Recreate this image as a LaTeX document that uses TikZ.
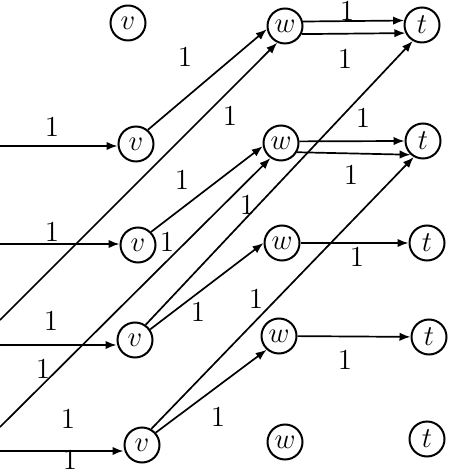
\documentclass[tikz,border=0pt]{standalone}
\usetikzlibrary{arrows.meta}
\begin{document}
\begin{tikzpicture}[x=0.5pt,y=-0.5pt,
  vert/.style={circle,draw,line width=1pt,minimum size=17.5pt,inner sep=0pt,font=\fontsize{15.5}{17}\selectfont},
  lab/.style={font=\fontsize{14.5}{16}\selectfont,inner sep=0pt},
  arr/.style={-{Latex[length=5.5pt,width=4.2pt]},line width=0.85pt}]
\useasboundingbox (0,0) rectangle (474,474);
% vertices
\node[vert] (v0) at (128,23) {$v$};
\node[vert] (w0) at (285,26) {$w$};
\node[vert] (t0) at (422,25) {$t$};
\node[vert] (v1) at (136,144) {$v$};
\node[vert] (w1) at (281,143) {$w$};
\node[vert] (t1) at (423,141) {$t$};
\node[vert] (v2) at (138,245) {$v$};
\node[vert] (w2) at (282,243) {$w$};
\node[vert] (t2) at (427,243) {$t$};
\node[vert] (v3) at (135,340) {$v$};
\node[vert] (w3) at (279,336) {$w$};
\node[vert] (t3) at (429,337) {$t$};
\node[vert] (v4) at (142,445) {$v$};
\node[vert] (w4) at (285,442) {$w$};
\node[vert] (t4) at (427,439) {$t$};
% free ends at the left edge
\coordinate (h1) at (0,146);
\coordinate (h2) at (0,244);
\coordinate (h3) at (0,345);
\coordinate (h4) at (0,451);
\coordinate (f0) at (0,320);
\coordinate (j0) at (0,427);
% connectors
\draw[arr] (h1) -- (h1 -| v1.west);
\draw[arr] (h2) -- (h2 -| v2.west);
\draw[arr] (h3) -- (h3 -| v3.west);
\draw[arr] (h4) -- (h4 -| v4.west);
\draw[arr] (v1.50) -- (w0.190);
\draw[arr] (f0) -- (w0.245);
\draw[arr] (w0.14) -- (t0.166);
\draw[arr] (w0.-26) -- (t0.-154);
\draw[arr] (v3.55) -- (t0.240);
\draw[arr] (v2.45) -- (w1.190);
\draw[arr] (j0) -- (w1.235);
\draw[arr] (w1.5) -- (t1.180);
\draw[arr] (w1.-30) -- (t1.-132);
\draw[arr] (v4.60) -- (t1.240);
\draw[arr] (v3.35) -- (w2.180);
\draw[arr] (w2) -- (t2);
\draw[arr] (v4.42) -- (w3.228);
\draw[arr] (w3) -- (t3);
% labels
\node[lab] (l1) at (185,57) {1};
\node[lab] (l2) at (347,11) {1};
\node[lab] (l3) at (345,59) {1};
\node[lab] (l4) at (52,127) {1};
\node[lab] (l5) at (230,116) {1};
\node[lab] (l6) at (363,118) {1};
\node[lab] (l7) at (182,180) {1};
\node[lab] (l8) at (351,175) {1};
\node[lab] (l9) at (247,205) {1};
\node[lab] (l10) at (52,232) {1};
\node[lab] (l11) at (167,242) {1};
\node[lab] (l12) at (357,257) {1};
\node[lab] (l13) at (198,312) {1};
\node[lab] (l14) at (256,299) {1};
\node[lab] (l15) at (51,321) {1};
\node[lab] (l16) at (43,369) {1};
\node[lab] (l17) at (68,419) {1};
\node[lab] (l18) at (218,417) {1};
\node[lab] (l19) at (345,360) {1};
\node[lab] (l20) at (70,460) {1};
\end{tikzpicture}
\end{document}
